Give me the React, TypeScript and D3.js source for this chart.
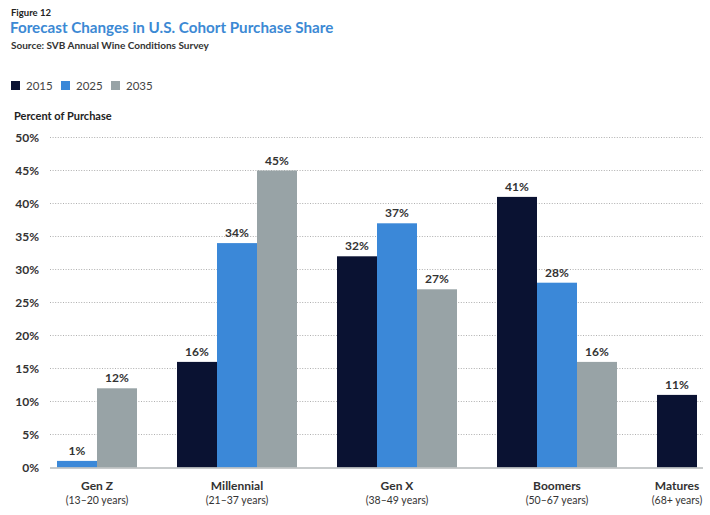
import React from "react";
import * as d3 from "d3";

const categories = ["Gen Z", "Millennial", "Gen X", "Boomers", "Matures"];
const ageRanges = ["(13–20 years)", "(21–37 years)", "(38–49 years)", "(50–67 years)", "(68+ years)"];
const seriesNames = ["2015", "2025", "2035"];
const values2015: (number | null)[] = [null, 16, 32, 41, 11];
const values2025: (number | null)[] = [1, 34, 37, 28, null];
const values2035: (number | null)[] = [12, 45, 27, 16, null];
const yTicks = [0, 5, 10, 15, 20, 25, 30, 35, 40, 45, 50];
const colors = ["#0a1232", "#3b88d8", "#98a3a6"];

const W = 710;
const H = 515;
const FONT = "Lato, 'Open Sans', sans-serif";

export default function App() {
  const seriesValues = [values2015, values2025, values2035];
  const x = d3.scaleBand<string>().domain(categories).range([17, 777]).paddingInner(0.25).paddingOuter(0);
  const xi = d3.scaleBand<string>().domain(seriesNames).range([0, x.bandwidth()]).padding(0);
  const y = d3.scaleLinear().domain([0, 50]).range([467.5, 137.5]);
  const gridX0 = 50;
  const gridX1 = 703;

  return (
    <svg width={W} height={H} style={{ position: "absolute", left: 0, top: 0, background: "#fff" }} fontFamily={FONT}>
      <text x={11} y={16} fontSize={9.5} fontWeight={700} fill="#222">Figure 12</text>
      <text x={10} y={33} fontSize={15.2} fontWeight={700} fill="#3c89d4">Forecast Changes in U.S. Cohort Purchase Share</text>
      <text x={11} y={49} fontSize={10} fontWeight={700} fill="#333">Source: SVB Annual Wine Conditions Survey</text>

      {seriesNames.map((s, i) => (
        <g key={s} transform={`translate(${11 + i * 50},81)`}>
          <rect x={0} y={0} width={9} height={9} fill={colors[i]} />
          <text x={15} y={9} fontSize={11.5} fill="#444">{s}</text>
        </g>
      ))}

      <text x={14} y={120} fontSize={11} fontWeight={700} fill="#222">Percent of Purchase</text>

      {yTicks.map((t) => (
        <g key={t}>
          {t > 0 && (
            <line x1={gridX0} x2={gridX1} y1={y(t)} y2={y(t)} stroke="#9a9a9a" strokeWidth={0.8} strokeDasharray="1 1.6" />
          )}
          <text x={39} y={y(t) + 4} fontSize={12} fontWeight={700} fill="#333" textAnchor="end">{t}%</text>
        </g>
      ))}

      {categories.map((c, ci) => (
        <g key={c}>
          {seriesNames.map((s, si) => {
            const v = seriesValues[si][ci];
            if (v == null) return null;
            const bx = (x(c) as number) + (xi(s) as number);
            const bw = xi.bandwidth();
            return (
              <g key={s}>
                <rect x={bx} y={y(v)} width={bw} height={y(0) - y(v)} fill={colors[si]} />
                <text x={bx + bw / 2} y={y(v) - 6} fontSize={12} fontWeight={700} fill="#333" textAnchor="middle">{v}%</text>
              </g>
            );
          })}
        </g>
      ))}

      <line x1={gridX0} x2={gridX1} y1={y(0) + 0.5} y2={y(0) + 0.5} stroke="#b5b8ba" strokeWidth={1.5} />

      {categories.map((c, ci) => {
        const present = seriesNames.filter((_, si) => seriesValues[si][ci] != null);
        const x0 = (x(c) as number) + (xi(present[0]) as number);
        const x1 = (x(c) as number) + (xi(present[present.length - 1]) as number) + xi.bandwidth();
        const cx = (x0 + x1) / 2;
        return (
          <g key={c}>
            <text x={cx} y={490} fontSize={12} fontWeight={700} fill="#333" textAnchor="middle">{c}</text>
            <text x={cx} y={504} fontSize={10.5} fill="#333" textAnchor="middle">{ageRanges[ci]}</text>
          </g>
        );
      })}
    </svg>
  );
}
